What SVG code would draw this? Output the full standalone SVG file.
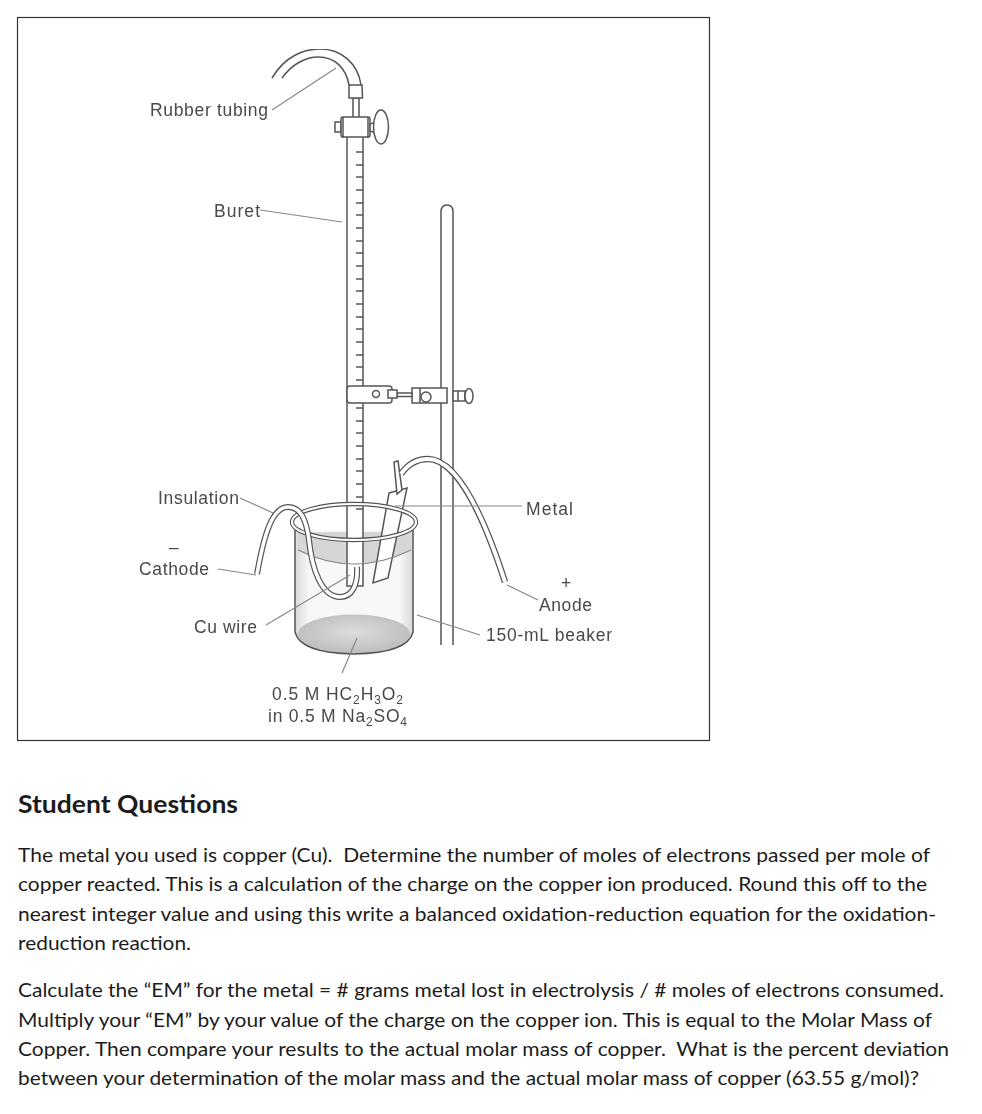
<svg xmlns="http://www.w3.org/2000/svg" width="982" height="1114" viewBox="0 0 982 1114">
<defs>
<style>
.l{font-family:"Liberation Sans",Arial,sans-serif;font-size:17.5px;fill:#4a4a4a}
.s{font-size:12px}
.b{font-family:Lato,"Open Sans",sans-serif;font-size:20px;fill:#1c1c1c}
.h{font-family:Lato,"Open Sans",sans-serif;font-size:24px;font-weight:700;fill:#1c1c1c}
.o{fill:none;stroke:#555;stroke-width:1.5}
.w{fill:#fff;stroke:#555;stroke-width:1.5}
.c{fill:none;stroke:#888;stroke-width:1.2}
.t{stroke:#555;stroke-width:1.4}
</style>
<filter id="soft" x="0" y="0" width="100%" height="100%"><feGaussianBlur stdDeviation="0.5"/></filter>
<linearGradient id="glass" x1="0" y1="0" x2="1" y2="0"><stop offset="0" stop-color="#d8d8d8"/><stop offset=".12" stop-color="#f8f8f8"/><stop offset=".88" stop-color="#f8f8f8"/><stop offset="1" stop-color="#d8d8d8"/></linearGradient>
<radialGradient id="pool" cx=".5" cy=".45" r=".6"><stop offset="0" stop-color="#dcdcdc"/><stop offset="1" stop-color="#bbb"/></radialGradient>
</defs>
<rect width="982" height="1114" fill="#fff"/>
<rect id="frame" x="17.5" y="17.5" width="692" height="723" fill="none" stroke="#333" stroke-width="1.2"/>
<g filter="url(#soft)">
<g id="stand"><path class="o" d="M441 645V212Q441 205 447 205T453 212V645"/></g>
<g id="beaker-back">
<path d="M295 530V632Q300 653 354 654Q408 653 413 632V530Z" fill="url(#glass)"/>
<path d="M298 532V550Q354 578 411 550V532Z" fill="#d6d6d6"/>
<ellipse cx="354" cy="634" rx="56" ry="19.500" fill="url(#pool)"/>
<path class="o" d="M295 530V632Q300 653 354 654Q408 653 413 632V530"/>
</g>
<g id="buret">
<path class="w" d="M347 137V586H363V137"/>
<path class="t" d="M356 152H363M356 165H363M356 177H363M356 190H363M356 203H363M356 215H363M356 228H363M356 241H363M356 253H363M356 266H363M356 279H363M356 291H363M356 304H363M356 317H363M356 329H363M356 342H363M356 355H363M356 367H363M356 380H363M356 408H363M356 421H363M356 433H363M356 446H363M356 459H363M356 471H363M356 484H363M356 497H363M356 509H363"/>
<path class="w" d="M353 98V118H359V98Z"/>
<rect class="w" x="335" y="122" width="6" height="10"/>
<rect class="w" x="341" y="117" width="29" height="20" rx="2"/>
<path class="o" d="M343 117V138M368 117V138"/>
<path class="w" d="M370 124L376 122V133L370 131Z"/>
<ellipse class="w" cx="381" cy="127" rx="7.500" ry="17"/>
<path class="w" d="M349 85H362L362.500 98H349Z"/>
</g>
<g id="rubber-tubing">
<path class="o" d="M272 78C285 56 304 49 320 49C342 49 358 64 361 85"/>
<path class="o" d="M282 78C292 64 306 57 318 57C335 57 346 68 349 85"/>
</g>
<g id="clamp">
<rect class="w" x="453" y="391" width="12" height="10"/>
<path class="o" d="M458 391V401"/>
<ellipse class="w" cx="469" cy="396" rx="4" ry="7.500"/>
<rect class="w" x="412" y="388" width="35" height="15"/>
<path class="o" d="M420 388V403"/>
<circle class="w" cx="426" cy="397" r="5"/>
<rect class="w" x="397" y="393" width="15" height="3.500"/>
<rect class="w" x="347" y="386" width="45" height="17" rx="3"/>
<rect class="w" x="388" y="390" width="9" height="8"/>
<circle class="w" cx="376" cy="394" r="3.500"/>
</g>
<g id="metal">
<path class="w" d="M389 493L407 488L388 578L373 583Z"/>
<path class="w" d="M394 462L398 461L402 490L397 494Z"/>
</g>
<g id="anode-wire">
<path d="M401 474C410 461 420 459 428 459C458 459 485 520 505 582" fill="none" stroke="#555" stroke-width="6.500"/>
<path d="M401 474C410 461 420 459 428 459C458 459 485 520 505 582" fill="none" stroke="#fff" stroke-width="4"/>
</g>
<g id="beaker-rim">
<ellipse cx="354" cy="522" rx="62" ry="18" fill="none" stroke="#555" stroke-width="4.400"/>
<ellipse cx="354" cy="522" rx="62" ry="18" fill="none" stroke="#fff" stroke-width="2.200"/>
<path class="c" d="M298 550Q354 578 411 550"/>
</g>
<g id="cathode-wire">
<path d="M257 574C264 535 272 507 288 507C300 507 306 518 309 540C312 570 322 597 340 597C352 597 358 585 357 567" fill="none" stroke="#555" stroke-width="6"/>
<path d="M257 574C264 535 272 507 288 507C300 507 306 518 309 540C312 570 322 597 340 597C352 597 358 585 357 567" fill="none" stroke="#fff" stroke-width="3.600"/>
</g>
<g id="connectors">
<path class="c" d="M272 110L336 68M260 210L342 222M240 498L273 513M218 569L256 575M266 625L350 575M395 506H522M507 585L538 600M417 615L480 635M357 638L342 673"/>
</g>
<g id="labels">
<text class="l" x="150" y="116" textLength="118">Rubber tubing</text>
<text class="l" x="214" y="217" textLength="46">Buret</text>
<text class="l" x="158" y="504" textLength="81">Insulation</text>
<text class="l" x="169" y="553">–</text>
<text class="l" x="139" y="575" textLength="70">Cathode</text>
<text class="l" x="194" y="633" textLength="63">Cu wire</text>
<text class="l" x="526" y="515" textLength="47">Metal</text>
<text class="l" x="561" y="589">+</text>
<text class="l" x="539" y="611" textLength="53">Anode</text>
<text class="l" x="486" y="641" textLength="126">150-mL beaker</text>
<text class="l" x="272" y="700" textLength="131">0.5 M HC<tspan class="s" dy="4">2</tspan><tspan dy="-4">H</tspan><tspan class="s" dy="4">3</tspan><tspan dy="-4">O</tspan><tspan class="s" dy="4">2</tspan></text>
<text class="l" x="268" y="722" textLength="139">in 0.5 M Na<tspan class="s" dy="4">2</tspan><tspan dy="-4">SO</tspan><tspan class="s" dy="4">4</tspan></text>
</g>
</g>
<g id="questions">
<text class="h" x="18" y="813" textLength="220" lengthAdjust="spacingAndGlyphs">Student Questions</text>
<text class="b" x="18" y="862" textLength="912" lengthAdjust="spacingAndGlyphs" xml:space="preserve">The metal you used is copper (Cu).  Determine the number of moles of electrons passed per mole of</text>
<text class="b" x="18" y="891" textLength="909" lengthAdjust="spacingAndGlyphs">copper reacted. This is a calculation of the charge on the copper ion produced. Round this off to the</text>
<text class="b" x="18" y="921" textLength="918" lengthAdjust="spacingAndGlyphs">nearest integer value and using this write a balanced oxidation-reduction equation for the oxidation-</text>
<text class="b" x="18" y="950" textLength="173" lengthAdjust="spacingAndGlyphs">reduction reaction.</text>
<text class="b" x="18" y="997" textLength="926" lengthAdjust="spacingAndGlyphs">Calculate the “EM” for the metal = # grams metal lost in electrolysis / # moles of electrons consumed.</text>
<text class="b" x="18" y="1027" textLength="914" lengthAdjust="spacingAndGlyphs">Multiply your “EM” by your value of the charge on the copper ion. This is equal to the Molar Mass of</text>
<text class="b" x="18" y="1056" textLength="931" lengthAdjust="spacingAndGlyphs" xml:space="preserve">Copper. Then compare your results to the actual molar mass of copper.  What is the percent deviation</text>
<text class="b" x="18" y="1085" textLength="901" lengthAdjust="spacingAndGlyphs">between your determination of the molar mass and the actual molar mass of copper (63.55 g/mol)?</text>
</g>
</svg>
